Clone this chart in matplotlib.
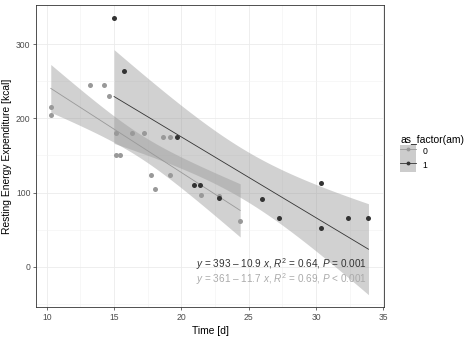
import numpy as np
import matplotlib
matplotlib.use("Agg")
import matplotlib.pyplot as plt
from matplotlib.lines import Line2D
from matplotlib.patches import Patch

plt.rcParams['font.family'] = ['Liberation Sans', 'DejaVu Sans']
plt.rcParams['mathtext.fontset'] = 'custom'
plt.rcParams['mathtext.rm'] = 'Liberation Sans'
plt.rcParams['mathtext.it'] = 'Liberation Sans:italic'

# am = 0
time_0 = [10.3, 10.3, 13.2, 14.25, 14.65, 15.12, 15.15, 15.44, 16.36, 17.25,
          17.77, 18.04, 18.66, 19.15, 19.15, 21.48, 22.77, 24.37]
ree_0 = [215, 205, 245, 245, 230, 150, 180, 150, 180, 180,
         123, 105, 175, 175, 123, 97, 95, 62]
# am = 1
time_1 = [15.0, 15.74, 19.67, 20.96, 21.38, 22.8, 25.96, 27.27, 30.39, 30.39,
          32.39, 33.9]
ree_1 = [335, 264, 175, 110, 109.5, 93, 91, 66, 113, 52, 66, 65.4]

# fitted coefficients (intercept, slope) and reported stats
fit_0 = (361, -11.7)
fit_1 = (393, -10.9)
eq_0 = r"$y$ = 361 – 11.7 $x$, $R^2$ = 0.69, $P$ < 0.001"
eq_1 = r"$y$ = 393 – 10.9 $x$, $R^2$ = 0.64, $P$ = 0.001"
t_crit = {16: 2.120, 10: 2.228}

col_0 = '#999999'
col_1 = '#333333'

fig = plt.figure(figsize=(4.74, 3.38), dpi=100)
ax = fig.add_axes([0.0759, 0.0917, 0.7341, 0.8935])


def smooth(ax, x, y, coef, color):
    x = np.asarray(x, float)
    y = np.asarray(y, float)
    n = len(x)
    b0, b1 = coef
    resid = y - (b0 + b1 * x)
    s = np.sqrt(np.sum(resid ** 2) / (n - 2))
    sxx = np.sum((x - x.mean()) ** 2)
    xs = np.linspace(x.min(), x.max(), 80)
    fit = b0 + b1 * xs
    se = s * np.sqrt(1 / n + (xs - x.mean()) ** 2 / sxx)
    ci = t_crit[n - 2] * se
    ax.fill_between(xs, fit - ci, fit + ci, color='#999999', alpha=0.45,
                    lw=0, zorder=2)
    ax.plot(xs, fit, color=color, lw=0.6, zorder=3)


smooth(ax, time_0, ree_0, fit_0, col_0)
smooth(ax, time_1, ree_1, fit_1, col_1)
ax.scatter(time_0, ree_0, s=13, color=col_0, lw=0, zorder=4)
ax.scatter(time_1, ree_1, s=13, color=col_1, lw=0, zorder=4)

ax.text(0.95, 0.143, eq_1, transform=ax.transAxes, ha='right', va='center',
        fontsize=7.2, color=col_1)
ax.text(0.95, 0.093, eq_0, transform=ax.transAxes, ha='right', va='center',
        fontsize=7.2, color='#aaaaaa')

ax.set_xlim(9.2, 35.05)
ax.set_ylim(-54.5, 353)
ax.set_xticks([10, 15, 20, 25, 30, 35])
ax.set_yticks([0, 100, 200, 300])
ax.set_xticks([12.5, 17.5, 22.5, 27.5, 32.5], minor=True)
ax.set_yticks([-50, 50, 150, 250], minor=True)
ax.grid(True, which='major', color='#ebebeb', lw=0.6, zorder=0)
ax.grid(True, which='minor', color='#f2f2f2', lw=0.4, zorder=0)
ax.set_axisbelow(True)
ax.tick_params(which='major', length=2.5, width=0.5, color='#333333',
               labelsize=6.2, labelcolor='#4d4d4d', pad=1.5)
ax.tick_params(which='minor', length=0)
for sp in ax.spines.values():
    sp.set_color('#333333')
    sp.set_linewidth(0.6)

ax.set_xlabel('Time [d]', fontsize=7.4, labelpad=3)
ax.set_ylabel('Resting Energy Expenditure [kcal]', fontsize=7.4, labelpad=3)

handles = [
    (Patch(facecolor='#cccccc', edgecolor='none'),
     Line2D([], [], color=col_0, lw=0.6, marker='o', ms=2.8, mec='none')),
    (Patch(facecolor='#cccccc', edgecolor='none'),
     Line2D([], [], color=col_1, lw=0.6, marker='o', ms=2.8, mec='none')),
]
leg = fig.legend(handles, ['0', '1'], title='as_factor(am)',
                 loc='upper left', bbox_to_anchor=(0.844, 0.602),
                 frameon=False, fontsize=6.2, title_fontsize=7.5,
                 handlelength=1.9, handleheight=2.1, labelspacing=0.0,
                 handletextpad=0.7, borderaxespad=0, borderpad=0)
leg._legend_box.align = 'left'

fig.savefig('out.png', dpi=100)
